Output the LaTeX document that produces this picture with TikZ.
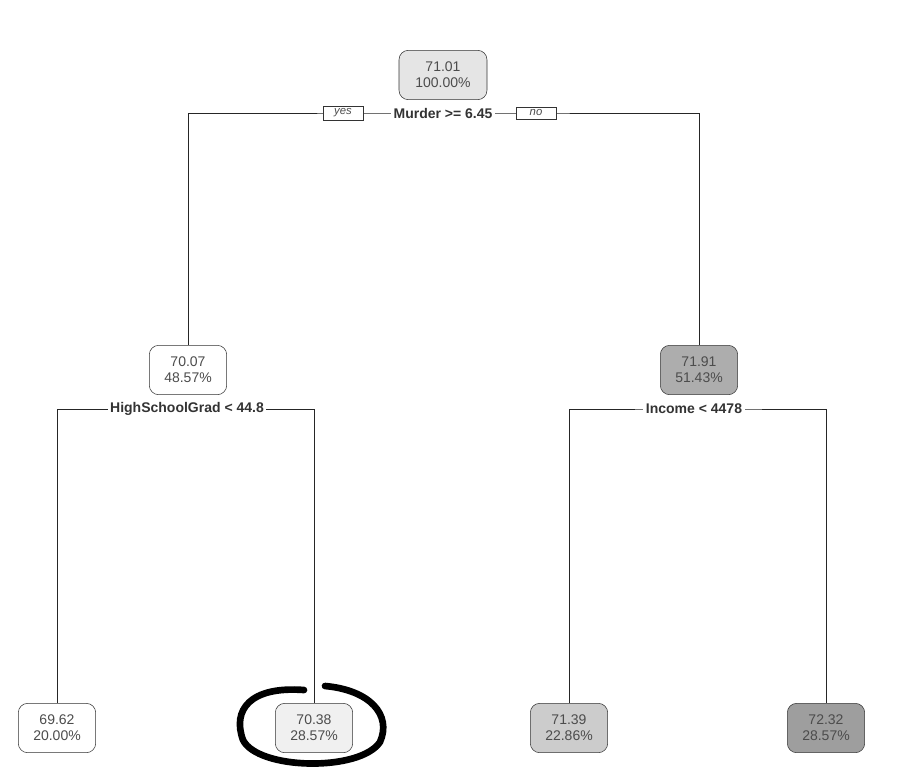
\documentclass[tikz,border=0pt]{standalone}
\usepackage{fontspec}
\setmainfont{Liberation Sans}
\begin{document}
\begin{tikzpicture}[x=0.75pt,y=-0.75pt,
  tnode/.style={draw=black!80,rounded corners=7pt,align=center,font=\fontsize{10.5}{12}\selectfont,text=black!70,minimum width=58pt,minimum height=37pt,inner sep=2pt},
  lab/.style={fill=white,inner sep=2pt,font=\bfseries\fontsize{10.5}{12}\selectfont,text=black!80},
  yn/.style={draw=black!80,fill=white,font=\itshape\fontsize{8.5}{10}\selectfont,text=black!70,minimum width=30pt,inner sep=2pt},
  edge/.style={draw=black!85,line width=0.6pt}]
\useasboundingbox (0,0) rectangle (918,779);
\node[tnode,fill=black!10,minimum width=66pt] (r) at (443,75) {71.01\\100.00\%};
\node[tnode,fill=white] (a) at (188,370) {70.07\\48.57\%};
\node[tnode,fill=black!32] (b) at (699,370) {71.91\\51.43\%};
\node[tnode,fill=white] (aa) at (57,728) {69.62\\20.00\%};
\node[tnode,fill=black!6] (ab) at (314,728) {70.38\\28.57\%};
\node[tnode,fill=black!20] (ba) at (569,728) {71.39\\22.86\%};
\node[tnode,fill=black!38] (bb) at (826,728) {72.32\\28.57\%};
\coordinate (rs) at (443,113);
\coordinate (as) at (188,409);
\coordinate (bs) at (699,409);
\draw[edge] (a.north) |- (rs) -| (b.north);
\draw[edge] (aa.north) |- (as) -| (ab.north);
\draw[edge] (ba.north) |- (bs) -| (bb.north);
\node[lab] (rl) at (rs) {Murder >= 6.45};
\node[yn] (yes) at (343,113) {yes};
\node[yn] (no) at (536,113) {no};
\node[lab] (al) at (187,409) {HighSchoolGrad < 44.8};
\node[lab] (bl) at (694,409) {Income < 4478};
\draw[line width=5pt,line cap=round] (ab) ++(-10,-38) coordinate (c0)
  .. controls (250,686) and (232,710) .. (243,740)
  .. controls (258,770) and (360,772) .. (380,742)
  .. controls (392,715) and (370,690) .. (325,686);
\end{tikzpicture}
\end{document}
